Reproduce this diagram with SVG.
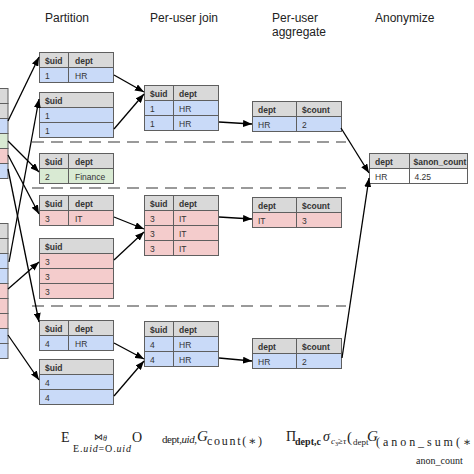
<svg xmlns="http://www.w3.org/2000/svg" width="474" height="474" viewBox="0 0 474 474">
<defs>
<style>
.c{stroke:#5f5f5f;stroke-width:1}
.hd{fill:#d9d9d9}
.bl{fill:#c9daf8}
.gr{fill:#d9ead3}
.pk{fill:#f4cccc}
.wh{fill:#ffffff}
.ln{stroke:#5f5f5f;stroke-width:1}
.th{font-family:"Liberation Sans",Arial,sans-serif;font-size:8.5px;font-weight:bold;fill:#333}
.td{font-family:"Liberation Sans",Arial,sans-serif;font-size:8.5px;fill:#333}
.title{font-family:"Liberation Sans",Arial,sans-serif;font-size:12px;fill:#222}
.arr{stroke:#000;stroke-width:1.3;fill:none;marker-end:url(#ah)}
.dash{stroke:#9a9a9a;stroke-width:2;stroke-dasharray:12 7;fill:none}
.m{font-family:"Liberation Serif","DejaVu Serif",serif;fill:#222}
</style>
<marker id="ah" viewBox="0 0 9 7" refX="9" refY="3.5" markerWidth="9" markerHeight="7" markerUnits="userSpaceOnUse" orient="auto">
<path d="M0,0 L9,3.5 L0,7 z" fill="#000"/>
</marker>
</defs>
<rect width="474" height="474" fill="#fff"/>

<g id="titles">
<text class="title" x="45" y="22">Partition</text>
<text class="title" x="150" y="22">Per-user join</text>
<text class="title" x="272" y="22">Per-user</text>
<text class="title" x="272" y="35.5">aggregate</text>
<text class="title" x="375" y="22">Anonymize</text>
</g>

<g id="separators">
<line class="dash" x1="32" y1="142" x2="346" y2="142"/>
<line class="dash" x1="32" y1="188" x2="346" y2="188"/>
<line class="dash" x1="32" y1="306" x2="346" y2="306"/>
</g>

<g id="tableE">
<rect class="c hd" x="-20.5" y="88.5" width="28.5" height="15"/>
<rect class="c hd" x="-20.5" y="103.5" width="28.5" height="15"/>
<rect class="c bl" x="-20.5" y="118.5" width="28.5" height="15"/>
<rect class="c gr" x="-20.5" y="133.5" width="28.5" height="15"/>
<rect class="c pk" x="-20.5" y="148.5" width="28.5" height="15"/>
<rect class="c bl" x="-20.5" y="163.5" width="28.5" height="15"/>
</g>
<g id="tableO">
<rect class="c hd" x="-20.5" y="223.5" width="28.5" height="15"/>
<rect class="c hd" x="-20.5" y="238.5" width="28.5" height="15"/>
<rect class="c bl" x="-20.5" y="253.5" width="28.5" height="15"/>
<rect class="c bl" x="-20.5" y="268.5" width="28.5" height="15"/>
<rect class="c pk" x="-20.5" y="283.5" width="28.5" height="15"/>
<rect class="c pk" x="-20.5" y="298.5" width="28.5" height="15"/>
<rect class="c pk" x="-20.5" y="313.5" width="28.5" height="15"/>
<rect class="c bl" x="-20.5" y="328.5" width="28.5" height="15"/>
<rect class="c bl" x="-20.5" y="343.5" width="28.5" height="15"/>
</g>

<g id="p1">
<rect class="c hd" x="39.5" y="52.5" width="74" height="15"/>
<rect class="c bl" x="39.5" y="67.5" width="74" height="15"/>
<line class="ln" x1="68.5" y1="52.5" x2="68.5" y2="82.5"/>
<text class="th" x="45" y="63.5">$uid</text><text class="th" x="75" y="63.5">dept</text>
<text class="td" x="45" y="78.5">1</text><text class="td" x="75" y="78.5">HR</text>
</g>
<g id="p2">
<rect class="c hd" x="39.5" y="92.5" width="74" height="15"/>
<rect class="c bl" x="39.5" y="107.5" width="74" height="15"/>
<rect class="c bl" x="39.5" y="122.5" width="74" height="15"/>
<text class="th" x="45" y="103.5">$uid</text>
<text class="td" x="45" y="118.5">1</text>
<text class="td" x="45" y="133.5">1</text>
</g>
<g id="p3">
<rect class="c hd" x="39.5" y="153.5" width="74" height="15"/>
<rect class="c gr" x="39.5" y="168.5" width="74" height="15"/>
<line class="ln" x1="68.5" y1="153.5" x2="68.5" y2="183.5"/>
<text class="th" x="45" y="164.5">$uid</text><text class="th" x="75" y="164.5">dept</text>
<text class="td" x="45" y="179.5">2</text><text class="td" x="75" y="179.5">Finance</text>
</g>
<g id="p4">
<rect class="c hd" x="39.5" y="195.5" width="74" height="15"/>
<rect class="c pk" x="39.5" y="210.5" width="74" height="15"/>
<line class="ln" x1="68.5" y1="195.5" x2="68.5" y2="225.5"/>
<text class="th" x="45" y="206.5">$uid</text><text class="th" x="75" y="206.5">dept</text>
<text class="td" x="45" y="221.5">3</text><text class="td" x="75" y="221.5">IT</text>
</g>
<g id="p5">
<rect class="c hd" x="39.5" y="238.5" width="74" height="15"/>
<rect class="c pk" x="39.5" y="253.5" width="74" height="15"/>
<rect class="c pk" x="39.5" y="268.5" width="74" height="15"/>
<rect class="c pk" x="39.5" y="283.5" width="74" height="15"/>
<text class="th" x="45" y="249.5">$uid</text>
<text class="td" x="45" y="264.5">3</text>
<text class="td" x="45" y="279.5">3</text>
<text class="td" x="45" y="294.5">3</text>
</g>
<g id="p6">
<rect class="c hd" x="39.5" y="320.5" width="74" height="15"/>
<rect class="c bl" x="39.5" y="335.5" width="74" height="15"/>
<line class="ln" x1="68.5" y1="320.5" x2="68.5" y2="350.5"/>
<text class="th" x="45" y="331.5">$uid</text><text class="th" x="75" y="331.5">dept</text>
<text class="td" x="45" y="346.5">4</text><text class="td" x="75" y="346.5">HR</text>
</g>
<g id="p7">
<rect class="c hd" x="39.5" y="359.5" width="74" height="15"/>
<rect class="c bl" x="39.5" y="374.5" width="74" height="15"/>
<rect class="c bl" x="39.5" y="389.5" width="74" height="15"/>
<text class="th" x="45" y="370.5">$uid</text>
<text class="td" x="45" y="385.5">4</text>
<text class="td" x="45" y="400.5">4</text>
</g>

<g id="j1">
<rect class="c hd" x="144.5" y="85.5" width="74" height="15"/>
<rect class="c bl" x="144.5" y="100.5" width="74" height="15"/>
<rect class="c bl" x="144.5" y="115.5" width="74" height="15"/>
<line class="ln" x1="173.5" y1="85.5" x2="173.5" y2="130.5"/>
<text class="th" x="150" y="96.5">$uid</text><text class="th" x="179" y="96.5">dept</text>
<text class="td" x="150" y="111.5">1</text><text class="td" x="179" y="111.5">HR</text>
<text class="td" x="150" y="126.5">1</text><text class="td" x="179" y="126.5">HR</text>
</g>
<g id="j2">
<rect class="c hd" x="144.5" y="195.5" width="74" height="15"/>
<rect class="c pk" x="144.5" y="210.5" width="74" height="15"/>
<rect class="c pk" x="144.5" y="225.5" width="74" height="15"/>
<rect class="c pk" x="144.5" y="240.5" width="74" height="15"/>
<line class="ln" x1="173.5" y1="195.5" x2="173.5" y2="255.5"/>
<text class="th" x="150" y="206.5">$uid</text><text class="th" x="179" y="206.5">dept</text>
<text class="td" x="150" y="221.5">3</text><text class="td" x="179" y="221.5">IT</text>
<text class="td" x="150" y="236.5">3</text><text class="td" x="179" y="236.5">IT</text>
<text class="td" x="150" y="251.5">3</text><text class="td" x="179" y="251.5">IT</text>
</g>
<g id="j3">
<rect class="c hd" x="144.5" y="321.5" width="74" height="15"/>
<rect class="c bl" x="144.5" y="336.5" width="74" height="15"/>
<rect class="c bl" x="144.5" y="351.5" width="74" height="15"/>
<line class="ln" x1="173.5" y1="321.5" x2="173.5" y2="366.5"/>
<text class="th" x="150" y="332.5">$uid</text><text class="th" x="179" y="332.5">dept</text>
<text class="td" x="150" y="347.5">4</text><text class="td" x="179" y="347.5">HR</text>
<text class="td" x="150" y="362.5">4</text><text class="td" x="179" y="362.5">HR</text>
</g>

<g id="a1">
<rect class="c hd" x="252.5" y="101.5" width="89" height="15"/>
<rect class="c bl" x="252.5" y="116.5" width="89" height="15"/>
<line class="ln" x1="296.5" y1="101.5" x2="296.5" y2="131.5"/>
<text class="th" x="258" y="112.5">dept</text><text class="th" x="302" y="112.5">$count</text>
<text class="td" x="258" y="127.5">HR</text><text class="td" x="302" y="127.5">2</text>
</g>
<g id="a2">
<rect class="c hd" x="252.5" y="197.5" width="89" height="15"/>
<rect class="c pk" x="252.5" y="212.5" width="89" height="15"/>
<line class="ln" x1="296.5" y1="197.5" x2="296.5" y2="227.5"/>
<text class="th" x="258" y="208.5">dept</text><text class="th" x="302" y="208.5">$count</text>
<text class="td" x="258" y="223.5">IT</text><text class="td" x="302" y="223.5">3</text>
</g>
<g id="a3">
<rect class="c hd" x="252.5" y="338.5" width="89" height="15"/>
<rect class="c bl" x="252.5" y="353.5" width="89" height="15"/>
<line class="ln" x1="296.5" y1="338.5" x2="296.5" y2="368.5"/>
<text class="th" x="258" y="349.5">dept</text><text class="th" x="302" y="349.5">$count</text>
<text class="td" x="258" y="364.5">HR</text><text class="td" x="302" y="364.5">2</text>
</g>

<g id="anon">
<rect class="c hd" x="369.5" y="153.5" width="98" height="15"/>
<rect class="c wh" x="369.5" y="168.5" width="98" height="15"/>
<line class="ln" x1="409.5" y1="153.5" x2="409.5" y2="183.5"/>
<text class="th" x="413.5" y="164.5" font-size="8.2">$anon_count</text><text class="th" x="375" y="164.5">dept</text>
<text class="td" x="375" y="179.5">HR</text><text class="td" x="414.5" y="179.5">4.25</text>
</g>

<g id="connectors">
<line class="arr" x1="8" y1="121" x2="39" y2="57"/>
<line class="arr" x1="9" y1="262" x2="39" y2="99"/>
<line class="arr" x1="8" y1="141" x2="39" y2="172"/>
<line class="arr" x1="8" y1="155" x2="39" y2="214"/>
<line class="arr" x1="8" y1="169" x2="39" y2="322"/>
<line class="arr" x1="8" y1="289" x2="39" y2="262"/>
<line class="arr" x1="8" y1="335" x2="39" y2="380"/>
<line class="arr" x1="114" y1="75" x2="144" y2="92"/>
<line class="arr" x1="114" y1="129" x2="144" y2="94"/>
<line class="arr" x1="219" y1="122" x2="252" y2="124"/>
<line class="arr" x1="114" y1="217" x2="144" y2="229"/>
<line class="arr" x1="114" y1="260" x2="144" y2="232"/>
<line class="arr" x1="219" y1="217" x2="252" y2="219"/>
<line class="arr" x1="114" y1="343" x2="144" y2="359"/>
<line class="arr" x1="114" y1="396" x2="144" y2="361"/>
<line class="arr" x1="219" y1="358" x2="252" y2="361"/>
<line class="arr" x1="341" y1="128" x2="369" y2="173"/>
<line class="arr" x1="342" y1="358" x2="369" y2="178"/>
</g>

<g id="formula" class="m">
<text x="61" y="442" font-size="14">E</text>
<text x="94" y="440" font-size="9" font-family="DejaVu Sans, sans-serif">⋈<tspan font-size="8" font-style="italic" font-family="Liberation Serif, serif" dy="1">θ</tspan></text>
<text x="73" y="452" font-size="10" textLength="58" lengthAdjust="spacing">E.<tspan font-style="italic">uid</tspan>=O.<tspan font-style="italic">uid</tspan></text>
<text x="132" y="442" font-size="14">O</text>
<text x="162" y="443" font-size="11" textLength="35" lengthAdjust="spacing">dept,<tspan font-style="italic">uid</tspan>,</text>
<text x="197" y="441" font-size="15" font-style="italic">G</text>
<text x="207" y="445" font-size="12" textLength="55" lengthAdjust="spacing">count(∗)</text>
<text x="286" y="441" font-size="14">Π</text>
<text x="295" y="445" font-size="10" font-weight="bold" textLength="26" lengthAdjust="spacing">dept,c</text>
<text x="323" y="441" font-size="14" font-style="italic">σ</text>
<text x="331" y="444" font-size="9" font-style="italic">c<tspan font-size="6" font-style="normal" dy="1.5">3</tspan><tspan font-style="normal" dy="-1.5">≥</tspan>τ</text>
<text x="347" y="442" font-size="15">(</text>
<text x="353" y="445" font-size="9">dept</text>
<text x="367" y="441" font-size="15" font-style="italic">G</text>
<text x="376" y="446" font-size="12" textLength="95" lengthAdjust="spacing">(anon_sum(∗</text>
<text x="416" y="464" font-size="10">anon_count</text>
</g>
</svg>
